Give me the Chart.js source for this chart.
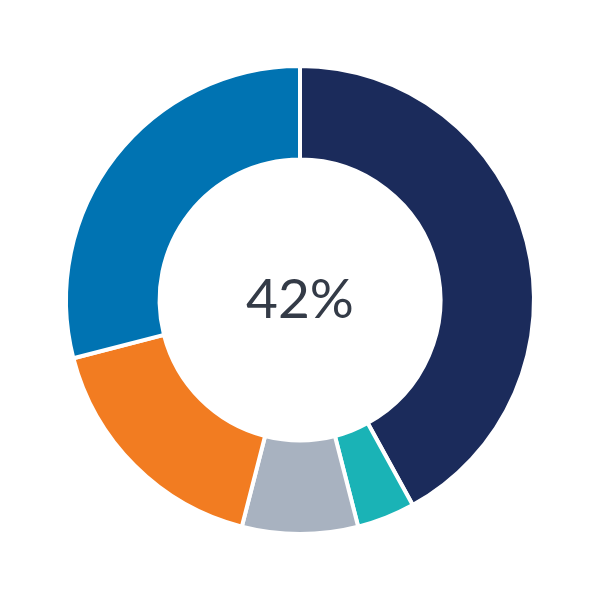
<!DOCTYPE html>
<html>
<head>
<meta charset="utf-8">
<script src="https://cdn.jsdelivr.net/npm/chart.js@4"></script>
<style>
  html, body { margin: 0; padding: 0; background: #fff; }
  #wrap { width: 600px; height: 600px; }
</style>
</head>
<body>
<div id="wrap"><canvas id="donut" width="600" height="600"></canvas></div>
<script>
// Segment data, clockwise from the top
const labels = ['Segment A', 'Segment B', 'Segment C', 'Segment D', 'Segment E'];
const values = [42, 4, 8, 17, 29];
const colors = ['#1b2b5b', '#1ab3b6', '#a8b2c0', '#f27c21', '#0073b2'];
const centerLabel = '42%';

// draw the big number in the hole
const centerText = {
    id: 'centerText',
    afterDraw(chart) {
        const ctx = chart.ctx;
        const meta = chart.getDatasetMeta(0).data[0];
        ctx.save();
        ctx.font = '400 55px Lato, "Open Sans", sans-serif';
        ctx.fillStyle = '#343b47';
        ctx.textAlign = 'center';
        ctx.textBaseline = 'middle';
        ctx.fillText(centerLabel, meta.x, meta.y);
        ctx.restore();
    }
};

new Chart(document.getElementById('donut'), {
    type: 'doughnut',
    data: {
        labels: labels,
        datasets: [{
            data: values,
            backgroundColor: colors,
            borderColor: '#ffffff',
            borderWidth: 4
        }]
    },
    options: {
        responsive: false,
        animation: false,
        cutout: '60%',
        layout: { padding: 64 },
        plugins: {
            legend: { display: false },
            tooltip: { enabled: false }
        }
    },
    plugins: [centerText]
});
</script>
</body>
</html>
